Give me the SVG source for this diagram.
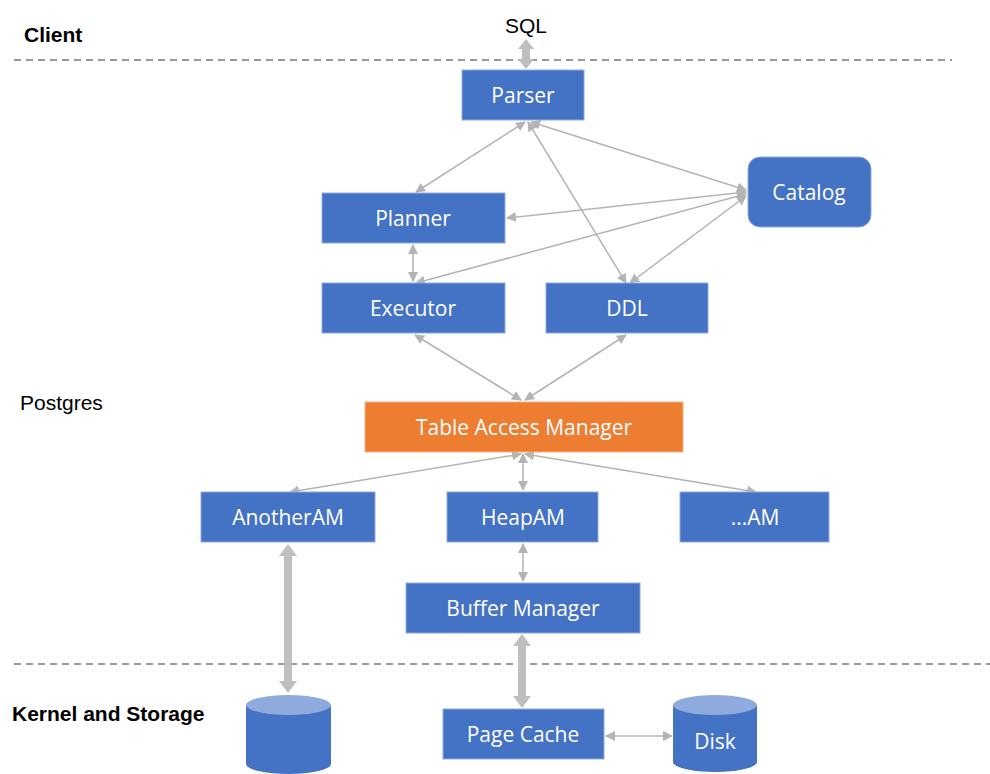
<svg xmlns="http://www.w3.org/2000/svg" width="990" height="774" viewBox="0 0 990 774">
<defs>
<style>
.n{fill:#4472C4;stroke:#8FAADC;stroke-width:1}
.t{font-family:"Open Sans","Liberation Sans",sans-serif;font-size:21px;fill:#fff;text-anchor:middle}
.l{font-family:"Liberation Sans",Arial,sans-serif;font-size:21px;fill:#000}
.c{stroke:#B4B4B4;stroke-width:1.5;fill:none;marker-start:url(#a);marker-end:url(#a)}
.k{fill:#BFBFBF}
.d{stroke:#999;stroke-width:2;stroke-dasharray:7 5;fill:none}
</style>
<marker id="a" viewBox="0 0 10 10" refX="9" refY="5" markerWidth="10" markerHeight="10" markerUnits="userSpaceOnUse" orient="auto-start-reverse"><path d="M0,0 L10,5 L0,10 Z" fill="#B4B4B4"/></marker>
</defs>
<rect width="990" height="774" fill="#fff"/>
<path class="d" d="M14,60 H952 M14,664 H990"/>
<text class="l" x="24" y="42" font-weight="bold">Client</text>
<text class="l" x="20" y="410">Postgres</text>
<text class="l" x="12" y="721" font-weight="bold">Kernel and Storage</text>
<text class="l" x="526" y="33" text-anchor="middle" font-size="22">SQL</text>
<g id="connectors">
<line class="c" x1="525" y1="122" x2="416" y2="192"/>
<line class="c" x1="528" y1="122" x2="626" y2="283"/>
<line class="c" x1="531" y1="122" x2="746" y2="190"/>
<line class="c" x1="746" y1="192" x2="507" y2="218"/>
<line class="c" x1="746" y1="194" x2="416" y2="283"/>
<line class="c" x1="746" y1="196" x2="630" y2="283"/>
<line class="c" x1="413" y1="245" x2="413" y2="281"/>
<line class="c" x1="415" y1="335" x2="521" y2="400"/>
<line class="c" x1="626" y1="335" x2="525" y2="400"/>
<line class="c" x1="521" y1="454" x2="290" y2="492"/>
<line class="c" x1="523" y1="454" x2="523" y2="490"/>
<line class="c" x1="525" y1="454" x2="756" y2="492"/>
<line class="c" x1="523" y1="544" x2="523" y2="581"/>
<line class="c" x1="606" y1="736" x2="672" y2="736"/>
<polygon class="k" points="526,39 534,49 530,49 530,59 534,59 526,69 518,59 522,59 522,49 518,49"/>
<polygon class="k" points="288,544 297,556 292,556 292,681 297,681 288,693 279,681 284,681 284,556 279,556"/>
<polygon class="k" points="522,634 531,646 526,646 526,696 531,696 522,708 513,696 518,696 518,646 513,646"/>
</g>
<g id="parser"><rect class="n" x="462" y="70" width="122" height="50"/><text class="t" x="523" y="103">Parser</text></g>
<g id="catalog"><rect class="n" x="748" y="157" width="123" height="70" rx="12"/><text class="t" x="809" y="200">Catalog</text></g>
<g id="planner"><rect class="n" x="322" y="193" width="183" height="50"/><text class="t" x="413" y="226">Planner</text></g>
<g id="executor"><rect class="n" x="322" y="283" width="183" height="50"/><text class="t" x="413" y="316">Executor</text></g>
<g id="ddl"><rect class="n" x="546" y="283" width="162" height="50"/><text class="t" x="627" y="316">DDL</text></g>
<g id="tam"><rect x="365" y="402" width="318" height="50" fill="#ED7D31" stroke="#F4B183"/><text class="t" x="524" y="435">Table Access Manager</text></g>
<g id="anotheram"><rect class="n" x="201" y="492" width="174" height="50"/><text class="t" x="288" y="525">AnotherAM</text></g>
<g id="heapam"><rect class="n" x="447" y="492" width="151" height="50"/><text class="t" x="523" y="525">HeapAM</text></g>
<g id="otheram"><rect class="n" x="680" y="492" width="149" height="50"/><text class="t" x="755" y="525">...AM</text></g>
<g id="buffer"><rect class="n" x="406" y="583" width="234" height="50"/><text class="t" x="523" y="616">Buffer Manager</text></g>
<g id="pagecache"><rect class="n" x="443" y="709" width="161" height="50"/><text class="t" x="523" y="742">Page Cache</text></g>
<g id="storage"><path d="M246,705 V764 A42.5,10 0 0 0 331,764 V705 Z" fill="#4472C4"/><ellipse cx="288.5" cy="705" rx="42.5" ry="10" fill="#8FAADC"/></g>
<g id="disk"><path d="M673,705 V762 A42,10 0 0 0 757,762 V705 Z" fill="#4472C4"/><ellipse cx="715" cy="705" rx="42" ry="10" fill="#8FAADC"/><text class="t" x="715" y="749">Disk</text></g>
</svg>
